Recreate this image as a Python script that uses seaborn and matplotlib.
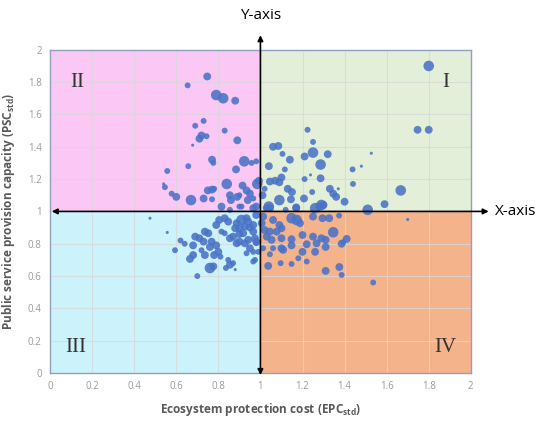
import numpy as np
import pandas as pd
import matplotlib
matplotlib.use("Agg")
import matplotlib.pyplot as plt
from matplotlib.patches import Rectangle
import seaborn as sns

# 各点的 EPCstd、PSCstd 和点大小等级（1 极小 ~ 4 大）
# 第 II 象限
x2 = [0.747, 0.654, 0.79, 0.823, 0.88, 0.69, 0.73, 0.71, 0.72, 0.744, 0.678, 0.83, 0.89,
      0.77, 0.776, 0.657, 0.557, 0.923, 0.884, 0.958, 0.98, 0.84, 0.54, 0.546, 0.578, 0.60,
      0.67, 0.73, 0.75, 0.77, 0.78, 0.77, 0.855, 0.86, 0.89, 0.90, 0.915, 0.934, 0.95, 0.94,
      0.91, 0.966, 0.985, 0.993, 0.815, 0.855, 0.98, 0.90]
y2 = [1.835, 1.78, 1.72, 1.70, 1.685, 1.53, 1.56, 1.45, 1.47, 1.465, 1.41, 1.50, 1.44,
      1.32, 1.30, 1.28, 1.25, 1.31, 1.26, 1.30, 1.31, 1.17, 1.17, 1.15, 1.11, 1.09,
      1.07, 1.08, 1.13, 1.135, 1.14, 1.075, 1.10, 1.07, 1.09, 1.10, 1.16, 1.13, 1.11, 1.07,
      1.03, 1.08, 1.17, 1.19, 1.03, 1.01, 1.03, 1.03]
s2 = [3, 2, 4, 4, 3, 2, 2, 3, 3, 2, 1, 2, 3,
      3, 2, 2, 2, 4, 3, 2, 2, 4, 1, 2, 2, 3,
      4, 3, 3, 3, 2, 2, 3, 3, 3, 2, 3, 3, 3, 3,
      2, 2, 4, 3, 3, 2, 3, 2]

# 第 I 象限
x1 = [1.80, 1.747, 1.80, 1.224, 1.25, 1.06, 1.085, 1.105, 1.14, 1.21, 1.25, 1.32, 1.286,
      1.04, 1.116, 1.438, 1.48, 1.527, 1.21, 1.238, 1.286, 1.045, 1.07, 1.09, 1.10, 1.44,
      1.13, 1.15, 1.33, 1.346, 1.36, 1.37, 1.246, 1.667, 1.207, 1.09, 1.145, 1.29, 1.40,
      1.59, 1.51, 1.04, 1.03, 1.17, 1.26, 1.28, 1.30, 1.12, 1.01, 1.02]
y1 = [1.90, 1.505, 1.505, 1.505, 1.43, 1.40, 1.405, 1.356, 1.32, 1.34, 1.364, 1.354, 1.29,
      1.28, 1.26, 1.26, 1.28, 1.36, 1.20, 1.226, 1.205, 1.185, 1.19, 1.18, 1.21, 1.17,
      1.14, 1.12, 1.14, 1.11, 1.09, 1.14, 1.12, 1.13, 1.08, 1.07, 1.075, 1.04, 1.06,
      1.045, 1.01, 1.03, 1.02, 1.025, 1.02, 1.03, 1.04, 1.01, 1.10, 1.14]
s1 = [4, 3, 3, 2, 2, 3, 3, 2, 3, 3, 4, 3, 4,
      3, 2, 2, 1, 1, 2, 1, 3, 3, 3, 3, 3, 2,
      3, 3, 3, 3, 3, 1, 2, 4, 3, 4, 3, 4, 3,
      3, 4, 4, 3, 3, 4, 3, 3, 2, 3, 2]

# 第 III 象限
x3 = [0.475, 0.557, 0.594, 0.70, 0.804, 0.83, 0.847, 0.79, 0.887, 0.91, 0.934, 0.942, 0.926,
      0.90, 0.95, 0.88, 0.736, 0.752, 0.69, 0.71, 0.768, 0.79, 0.76, 0.68, 0.73, 0.80,
      0.78, 0.81, 0.68, 0.665, 0.736, 0.72, 0.855, 0.87, 0.887, 0.90, 0.926, 0.942, 0.95,
      0.934, 0.98, 0.99, 0.847, 0.855, 0.87, 0.76, 0.776, 0.836, 0.966, 0.88, 0.815, 0.83,
      0.90, 0.918, 0.966, 0.966, 0.974, 0.98, 0.966, 0.974, 0.966, 0.98, 0.62, 0.64]
y3 = [0.958, 0.87, 0.76, 0.60, 0.947, 0.958, 0.937, 0.916, 0.927, 0.947, 0.958, 0.937, 0.906,
      0.896, 0.90, 0.896, 0.875, 0.865, 0.844, 0.834, 0.813, 0.79, 0.78, 0.79, 0.813, 0.75,
      0.73, 0.72, 0.73, 0.706, 0.73, 0.76, 0.834, 0.844, 0.803, 0.813, 0.803, 0.824, 0.772,
      0.741, 0.813, 0.75, 0.70, 0.67, 0.68, 0.65, 0.66, 0.65, 0.69, 0.64, 0.875, 0.865,
      0.86, 0.865, 0.875, 0.916, 0.834, 0.803, 0.75, 0.70, 1.02, 0.978, 0.82, 0.80]
s3 = [1, 1, 2, 2, 3, 3, 3, 3, 3, 4, 3, 3, 3,
      3, 3, 3, 3, 3, 3, 3, 3, 3, 3, 3, 3, 3,
      3, 2, 3, 3, 3, 2, 3, 3, 3, 3, 3, 3, 3,
      2, 3, 2, 2, 3, 2, 4, 3, 2, 2, 1, 2, 2,
      3, 3, 3, 3, 3, 2, 2, 2, 3, 3, 2, 2]

# 第 IV 象限
x4 = [1.013, 1.006, 1.02, 1.045, 1.03, 1.053, 1.013, 1.06, 1.09, 1.077, 1.10, 1.148, 1.172,
      1.188, 1.25, 1.295, 1.327, 1.374, 1.346, 1.20, 1.25, 1.29, 1.31, 1.41, 1.10, 1.148,
      1.148, 1.10, 1.108, 1.22, 1.20, 1.267, 1.31, 1.386, 1.393, 1.06, 1.045, 1.26, 1.18,
      1.22, 1.148, 1.096, 1.037, 1.31, 1.375, 1.386, 1.536, 1.70, 1.045, 1.17]
y4 = [0.968, 0.927, 0.885, 0.875, 0.844, 0.824, 0.772, 0.947, 0.916, 0.875, 0.896, 0.958, 0.947,
      0.927, 0.968, 0.958, 0.958, 0.974, 0.871, 0.854, 0.844, 0.834, 0.824, 0.83, 0.834, 0.828,
      0.79, 0.772, 0.762, 0.797, 0.75, 0.803, 0.78, 0.80, 0.81, 0.772, 0.735, 0.75, 0.71,
      0.69, 0.675, 0.68, 0.663, 0.632, 0.656, 0.607, 0.56, 0.95, 1.02, 1.02]
s4 = [3, 3, 3, 3, 3, 3, 2, 3, 3, 3, 3, 4, 4,
      3, 3, 3, 3, 2, 4, 3, 3, 3, 3, 3, 3, 3,
      3, 3, 3, 3, 3, 3, 3, 3, 2, 2, 2, 3, 2,
      2, 2, 2, 3, 3, 3, 2, 2, 1, 3, 3]

ticks = [0, 0.2, 0.4, 0.6, 0.8, 1, 1.2, 1.4, 1.6, 1.8, 2]
tick_labels = ["0", "0.2", "0.4", "0.6", "0.8", "1", "1.2", "1.4", "1.6", "1.8", "2"]

df = pd.DataFrame({
    "EPC": x1 + x2 + x3 + x4,
    "PSC": y1 + y2 + y3 + y4,
    "s": s1 + s2 + s3 + s4,
})

sns.set_style("white")
plt.rcParams["font.family"] = ["Open Sans", "DejaVu Sans"]

fig = plt.figure(figsize=(5.5, 4.22), dpi=100)
ax = fig.add_axes([0.091, 0.116, 0.765, 0.766])

# 四个象限的背景色
quad = [((0, 1), "#fbc8f6"), ((1, 1), "#e3efd9"), ((0, 0), "#ccf3fb"), ((1, 0), "#f5b38b")]
for (qx, qy), c in quad:
    ax.add_patch(Rectangle((qx, qy), 1, 1, facecolor=c, edgecolor="none", zorder=0.2))

# 网格线
for t in ticks[1:-1]:
    ax.axvline(t, color="#d8d8d8", lw=0.8, zorder=0.4, alpha=0.8)
    ax.axhline(t, color="#d8d8d8", lw=0.8, zorder=0.4, alpha=0.8)

sns.scatterplot(data=df, x="EPC", y="PSC", size="s",
                sizes={1: 5, 2: 18, 3: 32, 4: 58},
                color="#4a73c6", alpha=0.88, edgecolor="none",
                legend=False, ax=ax, zorder=3)

ax.set_xlim(0, 2)
ax.set_ylim(0, 2)
ax.set_xticks(ticks)
ax.set_xticklabels(tick_labels)
ax.set_yticks(ticks)
ax.set_yticklabels(tick_labels)
ax.tick_params(axis="both", length=0, labelsize=7, labelcolor="#9a9a9a", pad=6)
for sp in ax.spines.values():
    sp.set_color("#8ea0bf")
    sp.set_linewidth(1.0)

ax.set_xlabel(r"Ecosystem protection cost (EPC$_{\mathregular{std}}$)",
              fontsize=8.5, fontweight="bold", color="#595959", labelpad=6)
ax.set_ylabel(r"Public service provision capacity (PSC$_{\mathregular{std}}$)",
              fontsize=8.5, fontweight="bold", color="#595959", labelpad=8)

# 坐标轴箭头
arrow = dict(arrowstyle="<|-|>", color="black", lw=1.2, mutation_scale=8, shrinkA=0, shrinkB=0)
ax.annotate("", xy=(1, 2.09), xytext=(1, -0.012), arrowprops=arrow, annotation_clip=False, zorder=5)
ax.annotate("", xy=(2.085, 1), xytext=(0.008, 1), arrowprops=arrow, annotation_clip=False, zorder=5)
ax.text(1, 2.215, "Y-axis", ha="center", va="center", fontsize=11, color="black")
ax.text(2.115, 1, "X-axis", ha="left", va="center", fontsize=11, color="black")

# 象限编号
roman = dict(fontsize=15, color="#333333", family=["Liberation Serif", "DejaVu Serif"],
             ha="center", va="center", zorder=4)
ax.text(0.13, 1.80, "II", **roman)
ax.text(1.88, 1.80, "I", **roman)
ax.text(0.12, 0.16, "III", **roman)
ax.text(1.88, 0.16, "IV", **roman)

fig.savefig("out.png", dpi=100)
